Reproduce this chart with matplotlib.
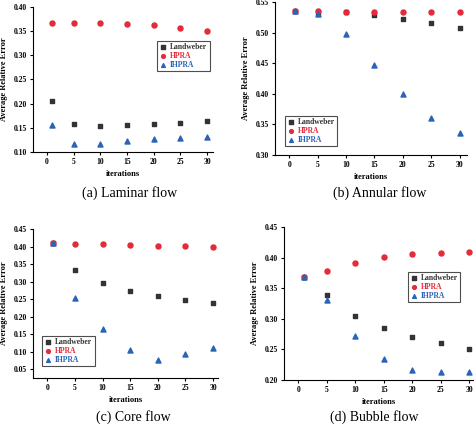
import matplotlib.pyplot as plt

plt.rcParams['font.family'] = ['Liberation Serif', 'DejaVu Serif']

iters = [1, 5, 10, 15, 20, 25, 30]

# (a) Laminar flow
lam_land = [0.205, 0.158, 0.154, 0.156, 0.158, 0.161, 0.165]
lam_hpra = [0.367, 0.367, 0.366, 0.365, 0.362, 0.357, 0.350]
lam_ihpra = [0.156, 0.116, 0.117, 0.122, 0.127, 0.129, 0.131]

# (b) Annular flow
ann_land = [0.535, 0.532, 0.534, 0.529, 0.522, 0.515, 0.507]
ann_hpra = [0.535, 0.5347, 0.534, 0.5337, 0.5337, 0.5337, 0.5337]
ann_ihpra = [0.5353, 0.530, 0.497, 0.4465, 0.400, 0.3605, 0.3354]

# (c) Core flow
core_land = [0.409, 0.333, 0.296, 0.274, 0.260, 0.248, 0.240]
core_hpra = [0.409, 0.408, 0.406, 0.404, 0.4025, 0.4015, 0.3996]
core_ihpra = [0.409, 0.252, 0.165, 0.106, 0.076, 0.093, 0.110]

# (d) Bubble flow
bub_land = [0.368, 0.3386, 0.3043, 0.2848, 0.270, 0.2598, 0.2505]
bub_hpra = [0.368, 0.3777, 0.3908, 0.4005, 0.406, 0.4076, 0.4087]
bub_ihpra = [0.3685, 0.330, 0.2717, 0.2337, 0.2168, 0.2136, 0.2136]

c_land = '#333333'
c_hpra = '#e32b3a'
c_ihpra = '#2a64b8'

fig = plt.figure(figsize=(4.74, 4.25), dpi=100)

panels = [
    ([33 / 474, 273 / 425, 180 / 474, 145 / 425], lam_land, lam_hpra, lam_ihpra,
     (0.10, 0.40), [0.10, 0.15, 0.20, 0.25, 0.30, 0.35, 0.40], (-2.6, 31.1),
     (0.69, 0.56), '(a) Laminar flow', (130 / 474, 232 / 425)),
    ([275 / 474, 270 / 425, 192 / 474, 153 / 425], ann_land, ann_hpra, ann_ihpra,
     (0.30, 0.55), [0.30, 0.35, 0.40, 0.45, 0.50, 0.55], (-2.5, 31.3),
     (0.05, 0.06), '(b) Annular flow', (380 / 474, 232 / 425)),
    ([33 / 474, 47 / 425, 185 / 474, 149 / 425], core_land, core_hpra, core_ihpra,
     (0.025, 0.45), [0.05, 0.10, 0.15, 0.20, 0.25, 0.30, 0.35, 0.40, 0.45], (-2.6, 30.9),
     (0.05, 0.08), '(c) Core flow', (133 / 474, 8 / 425)),
    ([284 / 474, 45 / 425, 190 / 474, 153 / 425], bub_land, bub_hpra, bub_ihpra,
     (0.20, 0.45), [0.20, 0.25, 0.30, 0.35, 0.40, 0.45], (-2.5, 30.8),
     (0.65, 0.51), '(d) Bubble flow', (374 / 474, 8 / 425)),
]

for rect, land, hpra, ihpra, ylim, yticks, xlim, leg_pos, caption, cap_pos in panels:
    ax = fig.add_axes(rect)
    ax.scatter(iters, land, marker='s', s=11, color=c_land, label='Landweber', zorder=3)
    ax.scatter(iters, hpra, marker='o', s=13, color=c_hpra, label='HPRA', zorder=3)
    ax.scatter(iters, ihpra, marker='^', s=13, color=c_ihpra, label='IHPRA', zorder=4)
    ax.set_xlim(*xlim)
    ax.set_ylim(*ylim)
    ax.set_xticks([0, 5, 10, 15, 20, 25, 30])
    ax.set_yticks(yticks)
    ax.set_yticklabels(['%.2f' % v for v in yticks])
    ax.spines['top'].set_visible(False)
    ax.spines['right'].set_visible(False)
    ax.tick_params(direction='out', length=2.5, width=0.8, labelsize=5.5, pad=2)
    for lbl in ax.get_xticklabels() + ax.get_yticklabels():
        lbl.set_fontweight('bold')
    ax.set_xlabel('iterations', fontsize=6, fontweight='bold', labelpad=3)
    ax.set_ylabel('Average Relative Error', fontsize=6, fontweight='bold', labelpad=4)
    leg = ax.legend(loc='lower left', bbox_to_anchor=leg_pos, fontsize=5.5,
                    frameon=True, fancybox=False, edgecolor='#222222',
                    handletextpad=0.4, borderpad=0.3, labelspacing=0.1,
                    handlelength=1.0, borderaxespad=0, markerscale=0.75)
    leg.get_frame().set_linewidth(0.8)
    for txt, col in zip(leg.get_texts(), [c_land, c_hpra, c_ihpra]):
        txt.set_color(col)
        txt.set_fontweight('bold')
    fig.text(cap_pos[0], cap_pos[1], caption, ha='center', va='center', fontsize=10)

plt.savefig('out.png', dpi=100)
